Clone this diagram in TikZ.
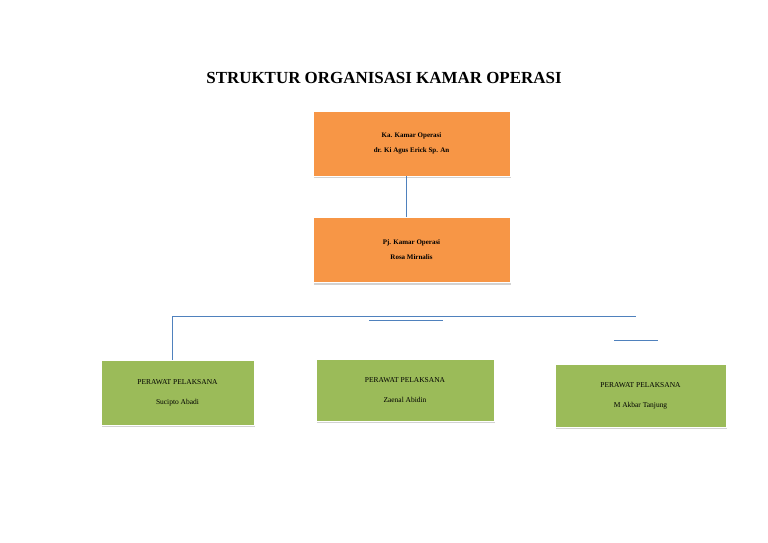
\documentclass[tikz,border=0pt]{standalone}
\usepackage{fontspec}
\setmainfont{Liberation Serif}
\usetikzlibrary{positioning}
\usetikzlibrary{shadows}
\begin{document}
\begin{tikzpicture}[x=1bp, y=-1bp,
  box/.style={draw=white, line width=0.8pt, align=center, font=\fontsize{7}{15}\selectfont,
    drop shadow={shadow xshift=1bp, shadow yshift=-2bp, fill=black!35}},
  kepala/.style={box, fill=orange!75!red!85!yellow, fill={rgb,255:red,247;green,150;blue,70}, minimum width=197bp, minimum height=65bp},
  perawat/.style={box, fill={rgb,255:red,155;green,187;blue,89}, font=\fontsize{7.5}{20}\selectfont},
  garis/.style={draw={rgb,255:red,79;green,129;blue,189}, line width=0.6pt}]
\useasboundingbox (0,0) rectangle (768,543);

\node[font=\bfseries\fontsize{17}{20}\selectfont] (judul) at (384,78) {STRUKTUR ORGANISASI KAMAR OPERASI};

\node[kepala] (ka) at (411.5,143.5) {\textbf{Ka. Kamar Operasi}\\\textbf{dr. Ki Agus Erick Sp. An}};
\node[kepala] (pj) at (411.5,250) {\textbf{Pj. Kamar Operasi}\\\textbf{Rosa Mirnalis}};

\node[perawat, minimum width=153bp, minimum height=65bp] (p1) at (177.5,392.5) {PERAWAT PELAKSANA\\Sucipto Abadi};
\node[perawat, minimum width=178bp, minimum height=62bp] (p2) at (405,390) {PERAWAT PELAKSANA\\Zaenal Abidin};
\node[perawat, minimum width=171bp, minimum height=63bp] (p3) at (640.5,395.5) {PERAWAT PELAKSANA\\M Akbar Tanjung};

% garis penghubung
\coordinate (kiri) at (172,316);
\coordinate (kanan) at (636,316);
\draw[garis] (ka.south -| 406,0) -- (pj.north -| 406,0);
\draw[garis] (p1.north -| kiri) -- (kiri) -- (kanan);
\coordinate (a1) at (369,320);
\coordinate (a2) at (443,320);
\draw[garis] (a1) -- (a2);
\coordinate (b1) at (614,340);
\coordinate (b2) at (658,340);
\draw[garis] (b1) -- (b2);
\end{tikzpicture}
\end{document}
